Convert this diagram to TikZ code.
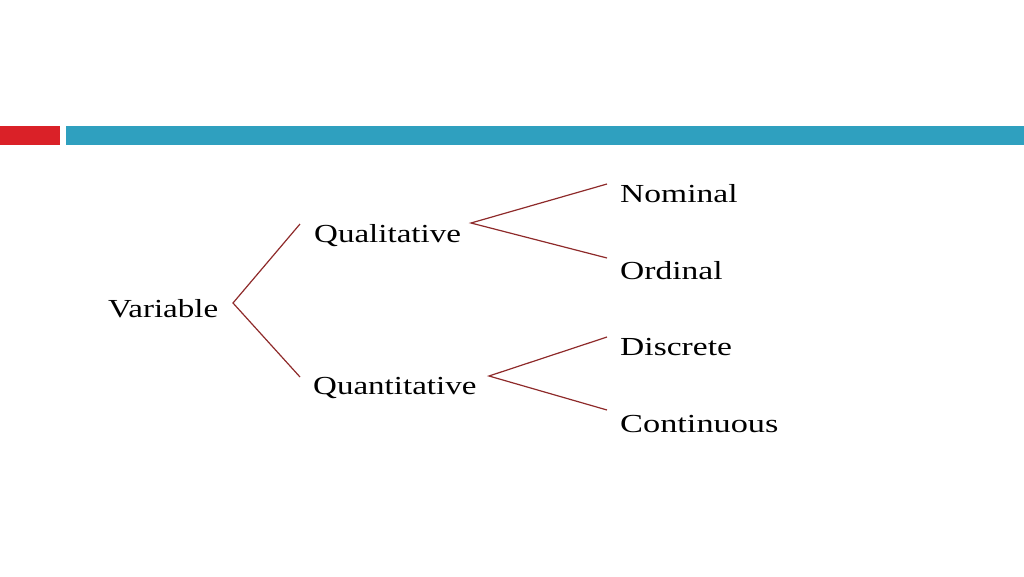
\documentclass[tikz,border=0pt]{standalone}
\usepackage{fontspec}
\setmainfont{Liberation Serif}
\definecolor{barred}{HTML}{DA2128}
\definecolor{barblue}{HTML}{2FA0BF}
\definecolor{linkred}{HTML}{8E2A2A}
\begin{document}
\begin{tikzpicture}[x=1pt,y=-1pt,
  lbl/.style={anchor=base west,inner sep=0pt,font=\fontsize{26}{30}\selectfont},
  link/.style={draw=linkred,line width=1.2pt}]
\useasboundingbox (0,0) rectangle (1024,576);
\fill[barred] (0,126) rectangle (60,145);
\fill[barblue] (66,126) rectangle (1024,145);
\node[lbl] (var) at (108,317) {\scalebox{1.27}[1]{Variable}};
\node[lbl] (qual) at (314,242) {\scalebox{1.27}[1]{Qualitative}};
\node[lbl] (quan) at (313,394) {\scalebox{1.27}[1]{Quantitative}};
\node[lbl] (nom) at (620,202) {\scalebox{1.29}[1]{Nominal}};
\node[lbl] (ord) at (620,279) {\scalebox{1.29}[1]{Ordinal}};
\node[lbl] (dis) at (620,355) {\scalebox{1.29}[1]{Discrete}};
\node[lbl] (con) at (620,432) {\scalebox{1.32}[1]{Continuous}};
\coordinate (v0) at (233,303);
\coordinate (q1) at (300,224);
\coordinate (q2) at (300,377);
\coordinate (a0) at (471,223);
\coordinate (n1) at (607,184);
\coordinate (o1) at (607,258);
\coordinate (b0) at (489,376);
\coordinate (d1) at (607,337);
\coordinate (c1) at (607,410);
\draw[link] (q1) -- (v0) -- (q2);
\draw[link] (n1) -- (a0) -- (o1);
\draw[link] (d1) -- (b0) -- (c1);
\end{tikzpicture}
\end{document}
